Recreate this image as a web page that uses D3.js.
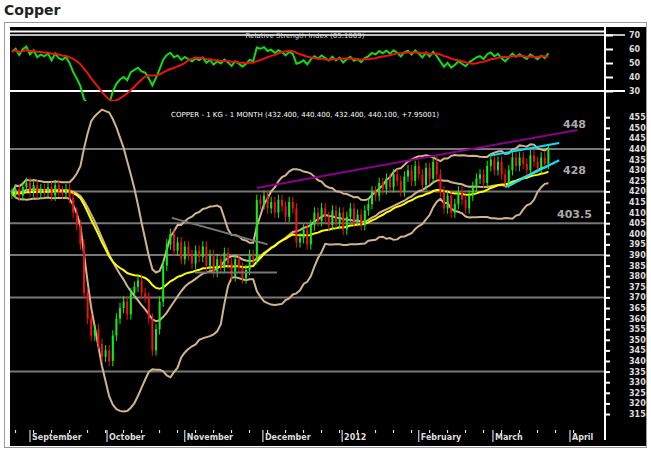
<!DOCTYPE html>
<html><head><meta charset="utf-8">
<script src="https://cdn.jsdelivr.net/npm/d3@7"></script>
<style>body{margin:0;background:#fff}</style></head>
<body><svg id="c" width="651" height="451"></svg>
<script>
const closes = [419,421,418,422,424,420,423,419,421,420,
422,418,423,420,419,421,417,410,404,395,
372,360,352,355,348,342,345,340,352,360,
365,368,362,372,375,378,372,370,360,345,
355,368,385,395,400,392,396,388,394,390,
386,392,389,394,385,390,382,388,384,391,
386,380,388,384,379,383,390,388,416,414,
418,412,415,410,416,413,408,415,412,396,
398,402,395,404,410,406,412,408,404,411,
405,410,402,408,412,406,409,404,411,414,
420,418,424,421,426,422,428,425,420,427,
430,425,432,428,423,431,426,434,428,420,
412,418,410,414,420,416,412,418,422,426,
428,424,432,435,430,434,428,424,430,436,
432,436,433,430,437,434,431,436,433,440];
const priceTicks = d3.range(455, 314, -5);
const rsiTicks = [70,60,50,40,30];
const gridLevels = [440,420,405,390,370,335];
const levelLabels = [{t:"448",v:452},{t:"428",v:430},{t:"403.5",v:409.5}];
const months = [{t:"September",i:5},{t:"October",i:26.4},{t:"November",i:48},{t:"December",i:69.7},{t:"2012",i:91.7},{t:"February",i:113},{t:"March",i:133.6},{t:"April",i:155}];
const trendLines = [
 {c:"#8b008b",a:[68,421.6],b:[157,449]},
 {c:"#00e5ff",a:[133,437],b:[152,442.8]},
 {c:"#00e5ff",a:[137,422],b:[152,434.7]},
 {c:"#777",a:[44.4,407.5],b:[71,395]},
 {c:"#777",a:[50.8,381.7],b:[73.6,381.7]}];
const title = "COPPER - 1 KG - 1 MONTH (432.400, 440.400, 432.400, 440.100, +7.95001)";
const rsiTitle = "Relative Strength Index (65.1869)";
const wickPad = 2.5;
const rsiStart = 58;

const svg = d3.select("#c");
svg.append("text").attr("x",4).attr("y",15).text("Copper").attr("font-family","DejaVu Sans").attr("font-weight","bold").attr("font-size",14).attr("fill","#222");
svg.append("rect").attr("x",4.5).attr("y",22.5).attr("width",642).attr("height",425).attr("fill","#fff").attr("stroke","#999");
svg.append("rect").attr("x",10).attr("y",27).attr("width",636).attr("height",419).attr("fill","#000");

const x = d3.scaleLinear().domain([0,160]).range([12,588]);
const y = d3.scaleLinear().domain([440,335]).range([149,371.6]);
const yr = d3.scaleLinear().domain([70,30]).range([35,91]);
const AX = 605, F = "DejaVu Sans";

const ema = (arr,n)=>{let k=2/(n+1),e=arr[0];return arr.map(v=>e=v*k+e*(1-k));};
const bbU=[],bbL=[],mid=[];
closes.forEach((_,i)=>{const s=closes.slice(Math.max(0,i-19),i+1);const m=d3.mean(s),sd=d3.deviation(s)||0;mid.push(m);bbU.push(m+2*sd);bbL.push(m-2*sd);});
const yel = ema(closes,30);
const N=20; let ag=rsiStart/100*2, al=(100-rsiStart)/100*2; const rsi=[rsiStart];
closes.forEach((c,i)=>{if(i==0)return;const d=c-closes[i-1];
 ag=(ag*(N-1)+Math.max(d,0))/N; al=(al*(N-1)+Math.max(-d,0))/N;
 rsi.push(100-100/(1+ag/al));});
const rsiMa = rsi.map((_,i)=>d3.mean(rsi.slice(Math.max(0,i-9),i+1)));

svg.append("g").selectAll("line").data(gridLevels).join("line").attr("x1",10).attr("x2",AX).attr("y1",d=>y(d)).attr("y2",d=>y(d)).attr("stroke","#777").attr("stroke-width",2);
svg.append("line").attr("x1",10).attr("x2",AX).attr("y1",31.5).attr("y2",31.5).attr("stroke","#fff").attr("stroke-width",2);
[70,30].forEach(v=>svg.append("line").attr("x1",10).attr("x2",AX+20).attr("y1",yr(v)).attr("y2",yr(v)).attr("stroke","#fff").attr("stroke-width",v==30?2:1.5));

svg.append("clipPath").attr("id","cr").append("rect").attr("x",10).attr("y",33).attr("width",AX-10).attr("height",68);
const lr = d3.line().x((d,i)=>x(i)).y(d=>yr(d));
svg.append("path").attr("clip-path","url(#cr)").attr("d",lr(rsi)).attr("fill","none").attr("stroke","#11dd11").attr("stroke-width",2);
svg.append("path").attr("clip-path","url(#cr)").attr("d",lr(rsiMa)).attr("fill","none").attr("stroke","#ee1111").attr("stroke-width",2);
svg.append("text").attr("x",305).attr("y",38).attr("text-anchor","middle").attr("fill","#ddd").attr("font-family",F).attr("font-size",7).text(rsiTitle);

svg.append("clipPath").attr("id","cm").append("rect").attr("x",10).attr("y",100).attr("width",AX-10).attr("height",328);
const g = svg.append("g").attr("clip-path","url(#cm)");
const lp = d3.line().x((d,i)=>x(i)).y(d=>y(d));
[bbU,bbL,mid].forEach(s=>g.append("path").attr("d",lp(s)).attr("fill","none").attr("stroke","#d2b48c").attr("stroke-width",2));
g.append("path").attr("d",lp(yel)).attr("fill","none").attr("stroke","#ffff00").attr("stroke-width",2);
closes.forEach((c,i)=>{const o=i?closes[i-1]:c;const col=c>=o?"#11ee11":"#ee1111";
 g.append("line").attr("x1",x(i)).attr("x2",x(i)).attr("y1",y(Math.max(o,c)+wickPad)).attr("y2",y(Math.min(o,c)-wickPad)).attr("stroke",col).attr("stroke-width",1);
 g.append("rect").attr("x",x(i)-1).attr("width",2).attr("y",y(Math.max(o,c))).attr("height",Math.max(1,y(Math.min(o,c))-y(Math.max(o,c)))).attr("fill",col);});
trendLines.forEach(t=>svg.append("line").attr("x1",x(t.a[0])).attr("y1",y(t.a[1])).attr("x2",x(t.b[0])).attr("y2",y(t.b[1])).attr("stroke",t.c).attr("stroke-width",2));
levelLabels.forEach(l=>svg.append("text").attr("x",l.t.length>3?557:563).attr("y",y(l.v)+4).attr("fill","#aaa").attr("font-family",F).attr("font-weight","bold").attr("font-size",11).text(l.t));
svg.append("text").attr("x",305).attr("y",117).attr("text-anchor","middle").attr("fill","#fff").attr("font-family",F).attr("font-size",7).text(title);

svg.append("line").attr("x1",AX).attr("x2",AX).attr("y1",27).attr("y2",440).attr("stroke","#fff").attr("stroke-width",2);
const ya = svg.append("g").attr("transform",`translate(${AX},0)`).call(d3.axisRight(y).tickValues(priceTicks).tickSize(5).tickFormat(d3.format("d")));
const ra = svg.append("g").attr("transform",`translate(${AX},0)`).call(d3.axisRight(yr).tickValues(rsiTicks).tickSize(8));
[ya,ra].forEach(a=>{a.select(".domain").remove();a.selectAll("line").attr("stroke","#fff").attr("stroke-width",2);
 a.selectAll("text").attr("x",24).attr("fill","#ddd").attr("font-family",F).attr("font-weight","bold").attr("font-size",8);});
const xa = svg.append("g");
xa.selectAll("line").data(months).join("line").attr("x1",d=>x(d.i)).attr("x2",d=>x(d.i)).attr("y1",430).attr("y2",442).attr("stroke","#fff");
xa.selectAll("text").data(months).join("text").attr("x",d=>x(d.i)+2).attr("y",440).attr("fill","#ddd").attr("font-family",F).attr("font-weight","bold").attr("font-size",8).text(d=>d.t);
svg.append("g").selectAll("line").data(d3.range(1,160,5)).join("line").attr("x1",d=>x(d)).attr("x2",d=>x(d)).attr("y1",430).attr("y2",433).attr("stroke","#fff");
</script></body></html>
